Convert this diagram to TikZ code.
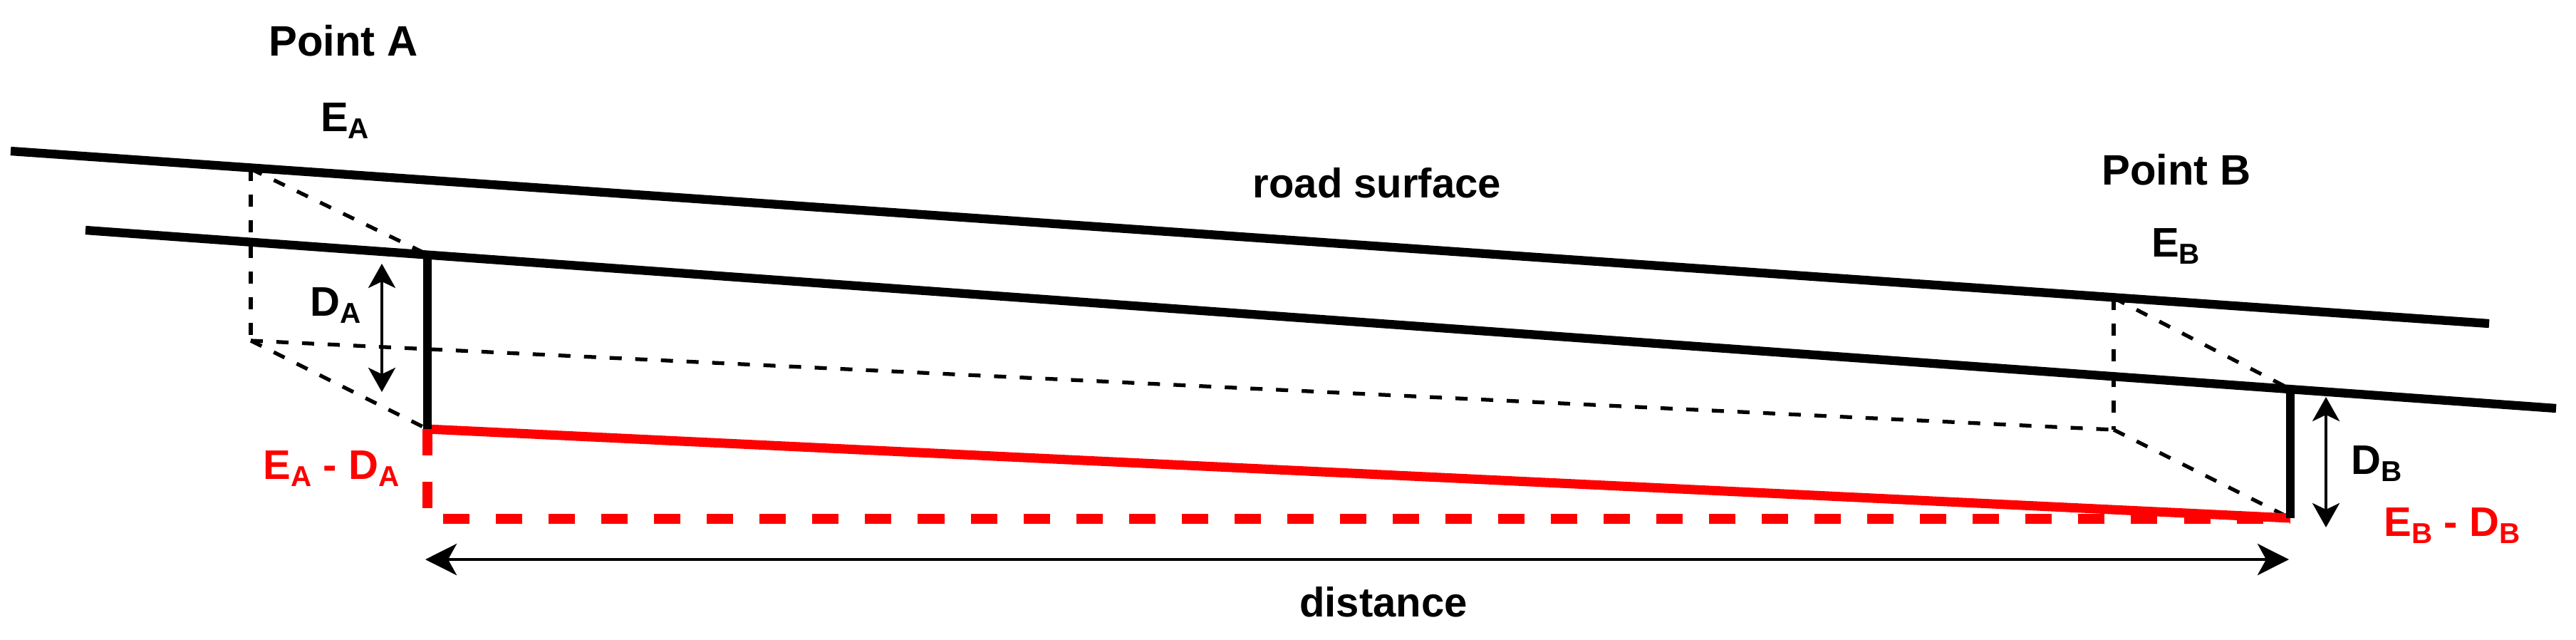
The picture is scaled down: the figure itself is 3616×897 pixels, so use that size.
\documentclass[tikz,border=0pt]{standalone}
\usepackage{fontspec}
\setmainfont{Liberation Sans}
\usetikzlibrary{arrows.meta}
\newcommand{\lsub}[1]{\raisebox{-0.1cm}{\fontsize{11.5}{12}\selectfont #1}}
\begin{document}
\begin{tikzpicture}[x=0.01cm,y=-0.01cm,
  road/.style={line width=3.5pt,black},
  post/.style={line width=3.3pt,black},
  hidden/.style={line width=1.5pt,black,dash pattern=on 0.17cm off 0.19cm},
  redsolid/.style={line width=3.7pt,red},
  reddash/.style={line width=3.8pt,red,dash pattern=on 0.37cm off 0.37cm},
  dim/.style={line width=1.3pt,black,{Stealth[length=0.34cm,width=0.38cm,inset=0.09cm]}-{Stealth[length=0.34cm,width=0.38cm,inset=0.09cm]}},
  dimlong/.style={line width=1.4pt,black,{Stealth[length=0.44cm,width=0.44cm,inset=0.12cm]}-{Stealth[length=0.44cm,width=0.44cm,inset=0.12cm]}},
  lbl/.style={anchor=base,inner sep=0pt,font=\fontsize{16.5}{18}\selectfont\bfseries},
  ptlbl/.style={anchor=base,inner sep=0pt,font=\fontsize{17}{19}\selectfont\bfseries},
  redlbl/.style={lbl,text=red}]
\useasboundingbox (0,0) rectangle (3616,897);
% road lines
\coordinate (r1s) at (15,212);
\coordinate (r1e) at (3494,454);
\coordinate (r2s) at (120,323);
\coordinate (r2e) at (3588,573);
% box A
\coordinate (At) at (352,237);
\coordinate (Ab) at (352,478);
\coordinate (At2) at (600,357);
\coordinate (Ab2) at (600,602);
\coordinate (Ar) at (600,728);
% box B
\coordinate (Bt) at (2967,418);
\coordinate (Bb) at (2967,603);
\coordinate (Bt2) at (3215,546);
\coordinate (Bb2) at (3215,727);
\coordinate (Br) at (3215,728);
% dimension ends
\coordinate (dAt) at (536,370);
\coordinate (dAb) at (536,550);
\coordinate (dBt) at (3265,557);
\coordinate (dBb) at (3265,740);
\coordinate (dL) at (597,785);
\coordinate (dR) at (3213,785);

% hidden (dashed) lines
\draw[hidden] (At) -- (Ab);
\draw[hidden] (At) -- (At2);
\draw[hidden] (Ab) -- (Ab2);
\draw[hidden] (Ab) -- (Bb);
\draw[hidden] (Bt) -- (Bb);
\draw[hidden] (Bt) -- (Bt2);
\draw[hidden] (Bb) -- (Bb2);

% red lines
\draw[reddash] (Ab2) -- (Ar) -- (Br);
\draw[redsolid] (Ab2) -- (Bb2);

% road surfaces
\draw[road] (r1s) -- (r1e);
\draw[road] (r2s) -- (r2e);

% posts
\draw[post] (At2) -- (Ab2);
\draw[post] (Bt2) -- (Bb2);

% dimensions
\draw[dim] (dAt) -- (dAb);
\draw[dim] (dBt) -- (dBb);
\draw[dimlong] (dL) -- (dR);

% labels
\node[ptlbl] (pA) at (482,78) {Point A};
\node[ptlbl] (pB) at (3055,259) {Point B};
\node[lbl] (eA) at (484,184) {E\lsub{A}};
\node[lbl] (eB) at (3054,360) {E\lsub{B}};
\node[lbl] (rs) at (1933,277) {road surface};
\node[lbl] (lDA) at (471,443) {D\lsub{A}};
\node[lbl] (lDB) at (3336,665) {D\lsub{B}};
\node[redlbl] (lEDA) at (465,672) {E\lsub{A} - D\lsub{A}};
\node[redlbl] (lEDB) at (3442,752) {E\lsub{B} - D\lsub{B}};
\node[lbl] (dist) at (1942,865) {distance};
\end{tikzpicture}
\end{document}
